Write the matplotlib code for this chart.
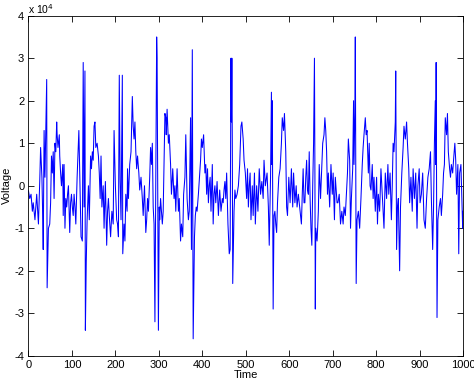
import numpy as np
import matplotlib.pyplot as plt
from matplotlib.ticker import FuncFormatter, MultipleLocator

# =========================================================
# DATA (voltage in units of 1e4)
# =========================================================

time = [
    0, 3, 6, 9, 11, 15, 19, 23, 26, 28, 31, 33, 34, 36, 38, 40, 42, 43, 46, 49,
    51, 53, 55, 57, 59, 61, 63, 65, 66, 68, 71, 72, 74, 76, 79, 80, 82, 84, 86, 88,
    90, 92, 95, 97, 99, 101, 103, 105, 107, 109, 112, 115, 116, 118, 121, 124, 126, 128, 130, 131,
    133, 135, 138, 140, 143, 145, 147, 149, 151, 153, 155, 158, 161, 163, 165, 167, 169, 172, 174, 177,
    180, 182, 184, 186, 189, 192, 195, 197, 200, 203, 205, 207, 209, 211, 213, 216, 217, 220, 222, 224,
    227, 228, 230, 233, 236, 239, 241, 243, 245, 247, 249, 251, 254, 256, 259, 262, 264, 267, 270, 272,
    274, 276, 279,
    281, 283, 285, 287, 289, 291, 295, 296, 299, 301, 302, 304, 306, 308, 310, 312, 314, 316, 317, 319,
    322, 324, 327, 329, 332, 335, 337, 339, 342, 345, 347, 350, 352, 355, 357, 360, 362, 365, 368, 370,
    373, 375, 377, 379, 382, 384, 386, 388, 391, 394, 396, 398, 400, 403, 406, 408, 410, 412, 414, 416,
    418, 420, 423, 425, 427, 429, 431, 434, 437, 440, 443, 446, 448, 450, 452, 454, 456, 459, 462, 464,
    466, 467, 468, 469, 470, 473, 475, 477, 480, 483, 486, 489, 491, 494, 496, 499, 502, 504, 506, 508,
    510, 512, 515, 517, 520, 522, 525, 528, 531, 534, 537, 540, 542, 545, 549, 552, 554, 557, 559, 560,
    561, 563, 565, 567, 569, 571, 573, 576, 579, 582, 584, 587, 589, 592, 594, 596, 599, 602, 605, 608,
    610, 613, 616, 618, 621,
    624, 628, 630, 632, 634, 636, 638, 640, 642, 644, 646, 648, 650, 652, 654, 656, 657, 658, 659, 660,
    661, 664, 667, 669, 672, 674, 677, 680, 682, 684, 686, 688, 690, 693, 696, 699, 701, 704, 706, 708,
    710, 712, 715, 718, 721, 724, 726, 729, 732, 734, 736, 739, 741, 743, 746, 748, 749, 751, 752, 753,
    754, 756, 759, 762, 765, 768, 770, 772, 775, 777, 779, 782, 784, 786, 788, 791, 793, 795, 798, 801,
    803, 805, 808, 811, 814, 816, 818, 821, 824, 827, 829, 832, 835, 837, 839, 841, 844, 845, 847, 849,
    851, 854, 856, 859, 862, 864, 867, 870, 872, 875, 877, 880, 883, 885, 888, 891, 894, 896, 899, 901,
    904, 907, 910, 913, 916, 919, 922, 925, 927, 930, 932, 934, 936, 937, 938, 939, 940, 942, 945, 948,
    950, 953, 955, 957, 959, 962, 964, 966, 969, 971, 973, 976, 978, 981, 983, 985, 988, 990, 992, 995,
    997, 999, 1000,
]

voltage = [
    -0.12, -0.3, -0.2, -0.6, -0.4, -0.8, -0.2, -0.9, 0.1, 0.9, 0.2, -0.8, -1.5, 1.3, 0.2, 1.4, 2.5, -2.4, -1.0, -0.9,
    -0.4, 0.7, 0.3, 0.8, -0.3, 1.0, 0.8, 1.5, 1.2, 0.9, 1.2, 0.7, 0.3, 0.0, 0.5, -0.7, 0.5, -1.0, -0.3, -0.5,
    -0.2, 0.0, -1.1, -0.4, -0.2, -0.5, -0.7, -0.2, -0.5, -0.9, 0.2, 1.0, 1.3, 0.3, -1.2, -1.3, 2.9, -0.5, 2.7, -3.4,
    -1.8, -0.8, 0.0, -0.8, 0.7, 0.4, 0.8, 0.6, 1.4, 1.5, 0.9, 1.0, 0.7, 0.3, -0.3, 0.7, -0.5, 0.0, -1.0, 0.1,
    -1.4, -0.6, -0.3, -0.7, -1.2, -0.6, -0.9, 1.3, 0.0, -0.8, -0.9, -1.2, 2.6, 0.1, -0.8, 2.6, -1.6, -0.9, -1.3, -0.2,
    -0.6, 0.4, -0.3, 0.5, 0.8, 2.1, 1.4, 1.1, 1.5, 0.8, 0.4, 0.7, 0.3, -0.1, 0.2, -0.3, -0.7, 0.0, -1.1, -0.8,
    -0.3, -0.6, 0.2,
    0.9, 0.5, 1.0, -0.5, -0.9, -3.2, 3.5, 3.0, -3.4, -0.5, -0.8, -0.3, -0.6, -0.9, -0.6, 0.5, 1.7, 1.6, 1.2, 1.8,
    1.0, 1.2, 0.5, -0.2, 0.4, -0.3, 0.0, -0.6, 0.4, -0.6, -0.3, -1.3, -0.9, -1.2, -0.2, 0.2, 1.2, -0.3, -0.8, -0.6,
    1.6, -1.5, 3.2, -3.6, -1.2, -0.7, -0.5, -0.6, -0.2, 0.3, 0.6, 1.1, 0.9, 1.2, 0.3, 0.5, -0.2, 0.4, -0.4, 0.0,
    0.2, -0.6, 0.5, -0.9, -0.2, 0.0, -0.4, 0.1, -0.7, -0.1, -0.6, -0.3, -0.4, -0.1, 0.1, -0.3, 0.3, -0.9, -1.6, -1.5,
    3.0, 1.5, 3.0, 1.0, -2.3, -0.6, -0.1, -0.3, -0.2, 0.0, 0.5, 1.4, 1.5, 1.1, 0.6, 0.3, -0.3, 0.4, -0.5, 0.0,
    0.3, -0.8, 0.0, -0.7, 0.3, -0.9, 0.0, -0.6, 0.4, -0.2, 0.1, -0.3, 0.6, 0.0, 0.3, -0.5, -1.4, 0.2, 2.2, 0.5,
    2.0, -2.9, -0.7, -0.6, -0.9, -1.1, -0.4, 0.2, 0.4, 1.0, 1.6, 1.3, 1.7, 0.8, -0.5, -0.7, 0.2, -0.4, 0.4, -0.5,
    0.3, -0.4, 0.0, -0.5, -0.2,
    -0.5, -0.9, -0.2, 0.4, -0.4, -0.4, 0.2, 0.6, -0.1, -0.2, 0.8, -0.3, -1.0, -1.4, 0.0, 1.0, 2.0, 3.0, 0.5, -2.9,
    -1.0, -1.3, -0.6, 0.5, -0.3, 0.2, 1.0, 1.2, 1.6, 1.3, 0.8, -0.2, 0.3, -0.5, 0.5, -0.2, 0.3, -0.8, 0.2, -0.1,
    -0.4, -0.4, -0.2, -0.9, -0.6, -0.9, -0.5, -0.7, -0.1, 0.3, 1.1, 0.6, -1.0, -0.3, 0.4, 2.0, 0.5, 1.7, 3.5, 0.8,
    -2.3, -0.8, -0.6, -1.0, -0.3, 0.5, 0.9, 1.2, 1.6, 1.2, 1.3, 0.3, 1.0, 0.0, -0.1, 0.5, -0.3, 0.2, -0.6, 0.2,
    -0.9, -0.2, -0.6, 0.4, -0.2, -0.6, -1.0, 0.3, -0.3, 0.5, -0.2, 0.3, -0.8, 0.0, 1.0, 0.8, 1.5, 2.7, -1.5, -0.5,
    -0.3, -2.0, -0.5, 0.3, 0.9, 1.4, 1.1, 1.5, 1.0, 0.4, -0.4, 0.2, -0.6, 0.4, -0.3, 0.3, -1.0, 0.0, 0.4, -0.4,
    -0.2, 0.3, -0.8, -1.0, -0.3, 0.2, 0.4, 0.8, -0.3, -1.5, -0.5, 1.0, 2.0, 0.5, 2.9, 0.0, -3.1, -0.8, -0.5, -0.3,
    -0.7, -0.2, 0.3, 0.5, 1.6, 1.2, 1.7, 0.8, 0.4, 0.2, 0.5, 0.3, 0.6, 1.0, 0.6, -0.2, 0.5, -1.6, 0.3, 0.5,
    -0.3, -1.0, -0.6,
]

SCALE = 1e4

# =========================================================
# PLOT
# =========================================================

plt.rcParams["font.family"] = ["Liberation Sans", "DejaVu Sans"]

fig = plt.figure(figsize=(4.74, 3.83), dpi=100)
ax = fig.add_axes([0.060, 0.071, 0.917, 0.888])

ax.plot(np.array(time), np.array(voltage) * SCALE, color="#0000ff", linewidth=0.75)

ax.set_xlim(0, 1000)
ax.set_ylim(-4 * SCALE, 4 * SCALE)
ax.xaxis.set_major_locator(MultipleLocator(100))
ax.yaxis.set_major_locator(MultipleLocator(SCALE))
ax.yaxis.set_major_formatter(FuncFormatter(lambda v, _: f"{v / SCALE:g}"))

ax.tick_params(direction="in", top=True, right=True, length=4, width=0.6,
               labelsize=8, pad=3)
for sp in ax.spines.values():
    sp.set_linewidth(0.6)

ax.set_xlabel("Time", fontsize=8, labelpad=0)
ax.set_ylabel("Voltage", fontsize=8, labelpad=2)
fig.text(0.059, 0.963, r"x 10$^{4}$", fontsize=7.5, ha="left", va="baseline")

fig.savefig("out.png", dpi=100)
